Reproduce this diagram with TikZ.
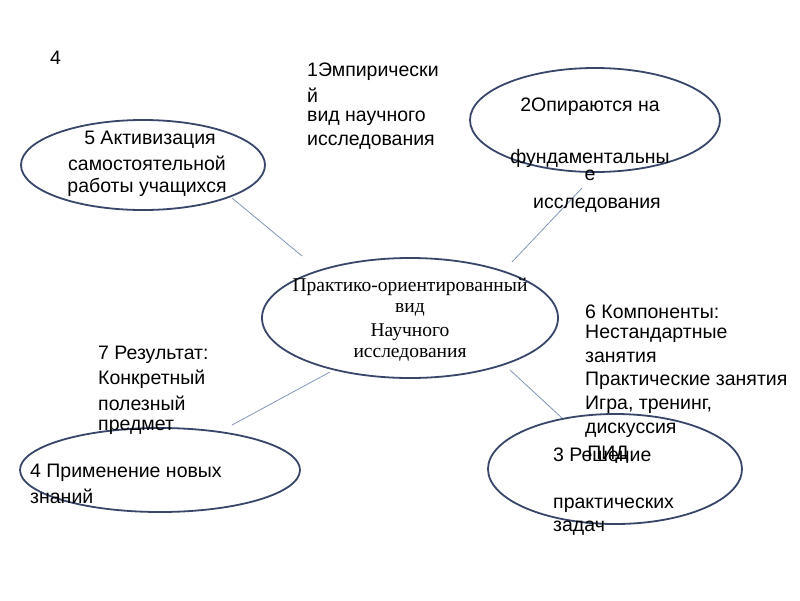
\documentclass[tikz,border=0pt]{standalone}
\usepackage{fontspec}
\setmainfont{Liberation Sans}
\newfontfamily\serifrm{Liberation Serif}
\definecolor{ellc}{RGB}{55,70,105}
\definecolor{connc}{RGB}{130,150,185}
\begin{document}
\begin{tikzpicture}[x=1pt,y=-1pt,
 ell/.style={draw=ellc,line width=1.8pt},
 conn/.style={draw=connc,line width=0.8pt},
 tx/.style={font=\fontsize{19.5}{22}\selectfont,inner sep=0pt},
 lt/.style={tx,anchor=west},
 st/.style={font=\serifrm\fontsize{19.5}{22}\selectfont,inner sep=0pt}]
\useasboundingbox[fill=white] (0,0) rectangle (800,600);
\draw[ell] (143,165) ellipse [x radius=122,y radius=45];
\draw[ell] (595,120) ellipse [x radius=125,y radius=52];
\draw[ell] (410,318) ellipse [x radius=148,y radius=60];
\draw[ell] (160,470) ellipse [x radius=140,y radius=42];
\draw[ell] (615,469) ellipse [x radius=127,y radius=55];
\coordinate (a1) at (232,198); \coordinate (a2) at (302,256);
\coordinate (b1) at (512,262); \coordinate (b2) at (582,188);
\coordinate (c1) at (330,372); \coordinate (c2) at (232,425);
\coordinate (d1) at (510,370); \coordinate (d2) at (562,418);
\draw[conn] (a1)--(a2); \draw[conn] (b1)--(b2);
\draw[conn] (c1)--(c2); \draw[conn] (d1)--(d2);
\node[lt] (n4) at (50,58) {4};
\node[lt] (e1) at (307,72) {1Эмпирически};
\node[lt] (e2) at (307,95) {й};
\node[lt] (e3) at (307,118) {вид научного};
\node[lt] (e4) at (307,142) {исследования};
\node[tx] (f1) at (590,107) {2Опираются на};
\node[tx] (f2) at (590,158) {фундаментальны};
\node[tx] (f3) at (590,175) {е};
\node[tx] (f4) at (597,205) {исследования};
\node[tx] (g1) at (150,140) {5 Активизация};
\node[tx] (g2) at (147,163) {самостоятельной};
\node[tx] (g3) at (147,187) {работы учащихся};
\node[st] (h1) at (410,287) {Практико-ориентированный};
\node[st] (h2) at (410,310) {вид};
\node[st] (h3) at (410,332) {Научного};
\node[st] (h4) at (410,355) {исследования};
\node[lt] (k1) at (585,312) {6 Компоненты:};
\node[lt] (k2) at (585,334) {Нестандартные};
\node[lt] (k3) at (585,357) {занятия};
\node[lt] (k4) at (585,381) {Практические занятия};
\node[lt] (k5) at (585,405) {Игра, тренинг,};
\node[lt] (k6) at (585,430) {дискуссия};
\node[tx] (k7) at (608,455) {ПИД};
\node[lt] (r1) at (98,355) {7 Результат:};
\node[lt] (r2) at (98,379) {Конкретный};
\node[lt] (r3) at (98,403) {полезный};
\node[lt] (r4) at (98,427) {предмет};
\node[lt] (p1) at (30,473) {4 Применение новых};
\node[lt] (p2) at (30,496) {знаний};
\node[lt] (s1) at (553,455) {3 Решение};
\node[lt] (s2) at (553,505) {практических};
\node[lt] (s3) at (553,528) {задач};
\end{tikzpicture}
\end{document}
